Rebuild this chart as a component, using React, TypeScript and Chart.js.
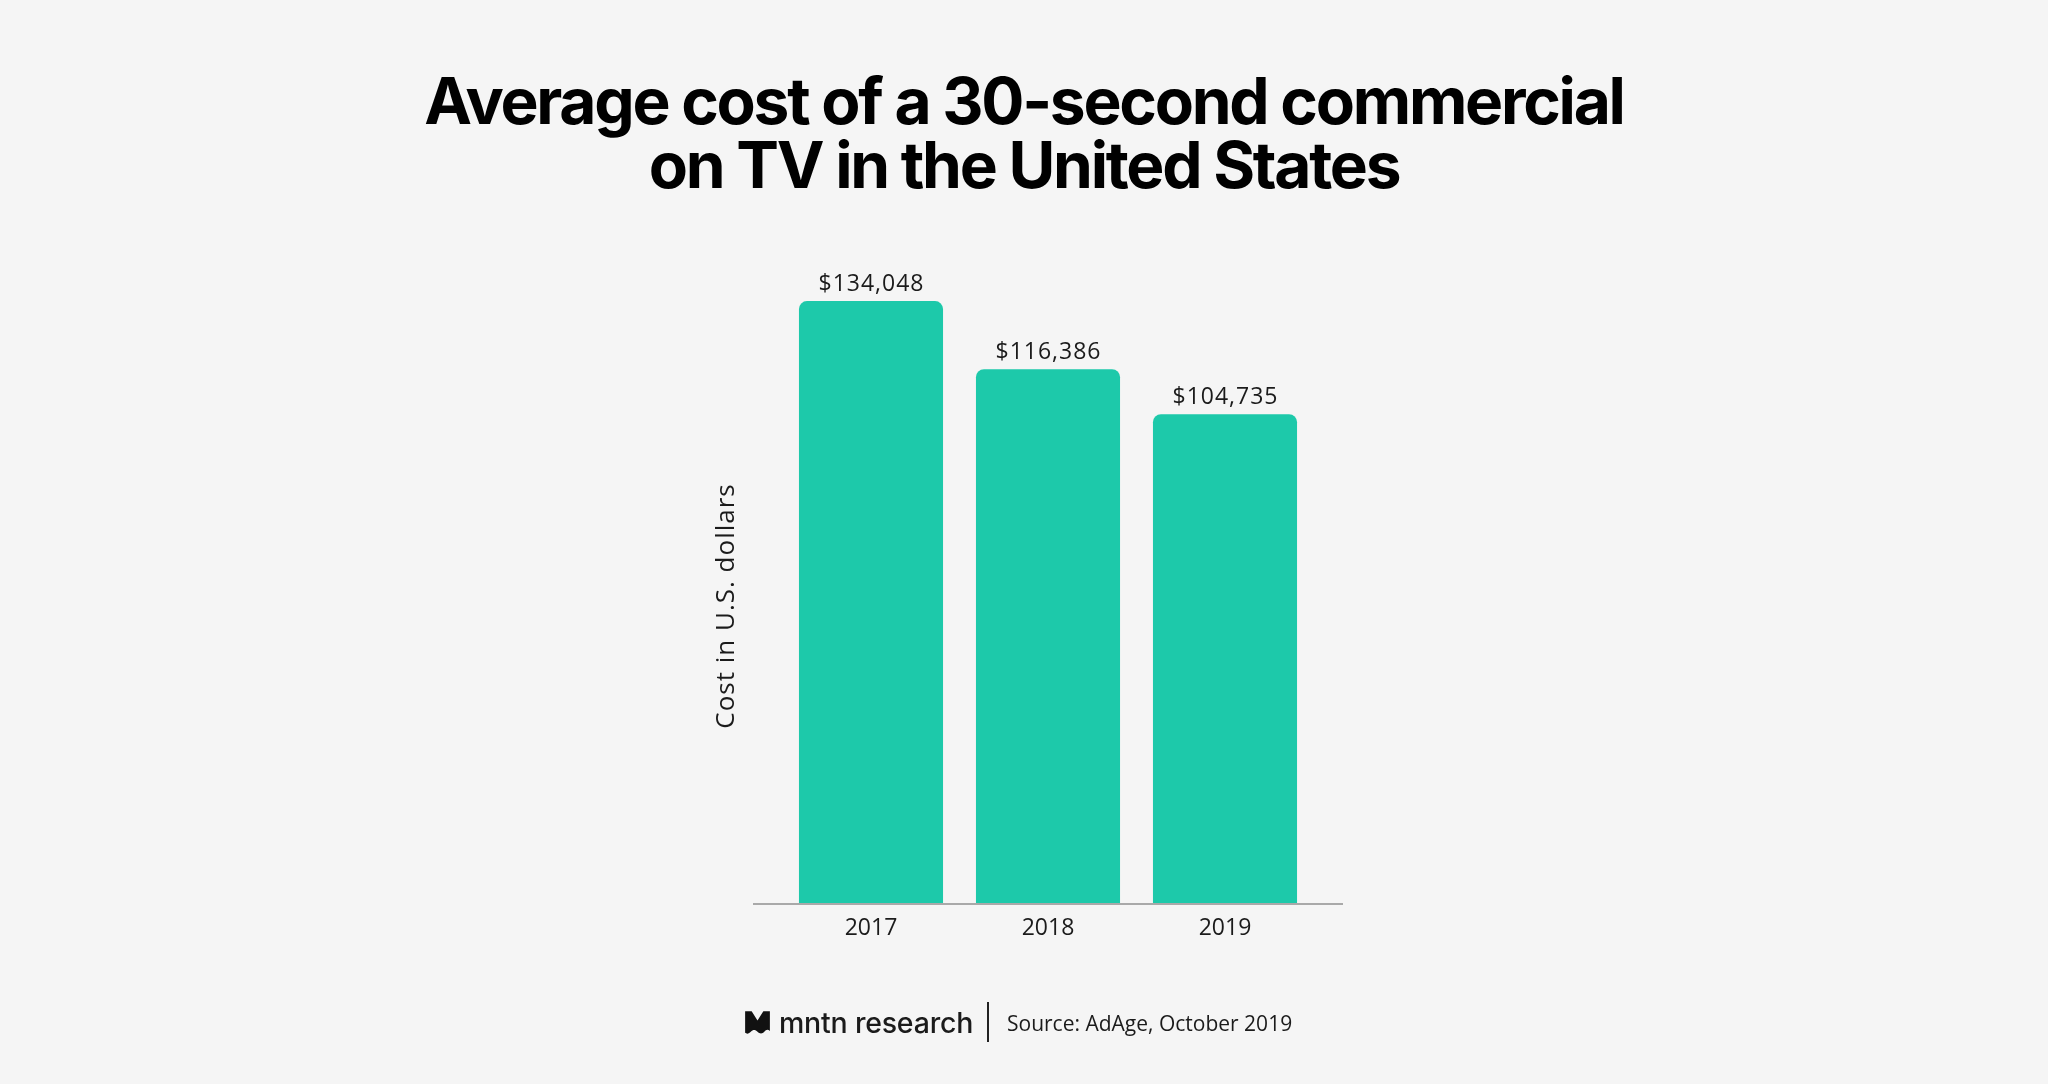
import { useEffect, useRef } from "react";
import { Chart, registerables } from "chart.js";

Chart.register(...registerables);

// Average cost of a 30-second TV spot, by year (USD)
const years = ["2017", "2018", "2019"];
const costs = [134048, 116386, 104735];

// Value-axis range used for the bars
const axisMin = -22000;
const axisMax = 160000;

const BAR_COLOR = "#1dc9aa";
const TEXT_COLOR = "#1b1b1b";
const BODY_FONT = '"Open Sans", "DejaVu Sans", sans-serif';

const formatUsd = (v: number) => "$" + v.toLocaleString("en-US");

// Draws the baseline, the value labels above each bar and the rotated axis caption
const annotations = {
  id: "annotations",
  afterDatasetsDraw(chart: any) {
    const { ctx, chartArea } = chart;
    const meta = chart.getDatasetMeta(0);
    ctx.save();

    ctx.strokeStyle = "#a9a9a9";
    ctx.lineWidth = 2;
    ctx.beginPath();
    ctx.moveTo(chartArea.left - 29.5, chartArea.bottom + 1);
    ctx.lineTo(chartArea.right + 29.5, chartArea.bottom + 1);
    ctx.stroke();

    ctx.fillStyle = TEXT_COLOR;
    ctx.font = `23px ${BODY_FONT}`;
    ctx.textAlign = "center";
    ctx.textBaseline = "alphabetic";
    (ctx as any).letterSpacing = "1px";
    meta.data.forEach((bar: any, i: number) => {
      ctx.fillText(formatUsd(costs[i]), bar.x + 0.5, bar.y - 10);
    });

    (ctx as any).letterSpacing = "1px";
    ctx.font = `26px ${BODY_FONT}`;
    ctx.translate(chartArea.left - 56, chartArea.bottom - 297);
    ctx.rotate(-Math.PI / 2);
    ctx.textBaseline = "middle";
    ctx.fillText("Cost in U.S. dollars", 0, 0);
    ctx.restore();
  },
};

function MntnMark() {
  return (
    <svg width="27" height="27" viewBox="0 0 24 24" style={{ display: "block" }}>
      <path
        d="M1 2 H6.8 L12 10.2 L17.2 2 H23 V19.5 C21.3 17.8 19.6 18.2 18 20.2 C16.4 22.2 14 22.3 12 20.2 C10 18.2 8 18.1 6 20.3 C4.5 22 2.6 22.4 1 21.2 Z"
        fill="#111"
      />
    </svg>
  );
}

export default function App() {
  const canvasRef = useRef<HTMLCanvasElement | null>(null);

  useEffect(() => {
    if (!canvasRef.current) return;
    const chart = new Chart(canvasRef.current, {
      type: "bar",
      data: {
        labels: years,
        datasets: [
          {
            data: costs,
            base: axisMin,
            backgroundColor: BAR_COLOR,
            borderWidth: 0,
            borderSkipped: "start",
            borderRadius: { topLeft: 8, topRight: 8, bottomLeft: 0, bottomRight: 0 },
            barPercentage: 0.814,
            categoryPercentage: 1,
          },
        ],
      },
      options: {
        responsive: false,
        animation: false,
        devicePixelRatio: 1,
        layout: { padding: { left: 782.5, right: 734.5, top: 201, bottom: 0 } },
        plugins: {
          legend: { display: false },
          tooltip: { enabled: false },
          title: { display: false },
        },
        scales: {
          x: {
            grid: { display: false, drawTicks: false },
            border: { display: false },
            ticks: {
              color: TEXT_COLOR,
              padding: 12,
              font: { family: BODY_FONT, size: 23 },
            },
            afterFit(scale: any) {
              scale.height = 181;
            },
          },
          y: {
            display: false,
            min: axisMin,
            max: axisMax,
          },
        },
      },
      plugins: [annotations],
    });
    return () => chart.destroy();
  }, []);

  return (
    <div
      style={{
        position: "absolute",
        top: 0,
        left: 0,
        width: 2048,
        height: 1084,
        background: "#f5f5f5",
        overflow: "hidden",
      }}
    >
      <canvas
        ref={canvasRef}
        width={2048}
        height={1084}
        style={{ position: "absolute", top: 0, left: 0, width: 2048, height: 1084 }}
      />
      <div
        style={{
          position: "absolute",
          top: 69,
          left: 0,
          width: 2048,
          textAlign: "center",
          fontFamily: "Inter, sans-serif",
          fontWeight: 700,
          fontSize: 64,
          lineHeight: "64px",
          letterSpacing: "-2.25px",
          color: "#000",
        }}
      >
        <div>Average cost of a 30-second commercial</div>
        <div>on TV in the United States</div>
      </div>
      <div
        style={{
          position: "absolute",
          top: 1002,
          left: 744,
          height: 40,
          display: "flex",
          alignItems: "center",
          color: TEXT_COLOR,
        }}
      >
        <MntnMark />
        <span
          style={{
            marginLeft: 8,
            fontFamily: "Inter, sans-serif",
            fontWeight: 500,
            fontSize: 28.5,
            letterSpacing: "-0.2px",
          }}
        >
          mntn research
        </span>
        <span
          style={{
            position: "absolute",
            left: 243,
            top: 0,
            width: 2,
            height: 40,
            background: "#222",
          }}
        />
        <span
          style={{
            position: "absolute",
            left: 263,
            top: 7,
            whiteSpace: "nowrap",
            fontFamily: BODY_FONT,
            fontSize: 21,
          }}
        >
          Source: AdAge, October 2019
        </span>
      </div>
    </div>
  );
}
